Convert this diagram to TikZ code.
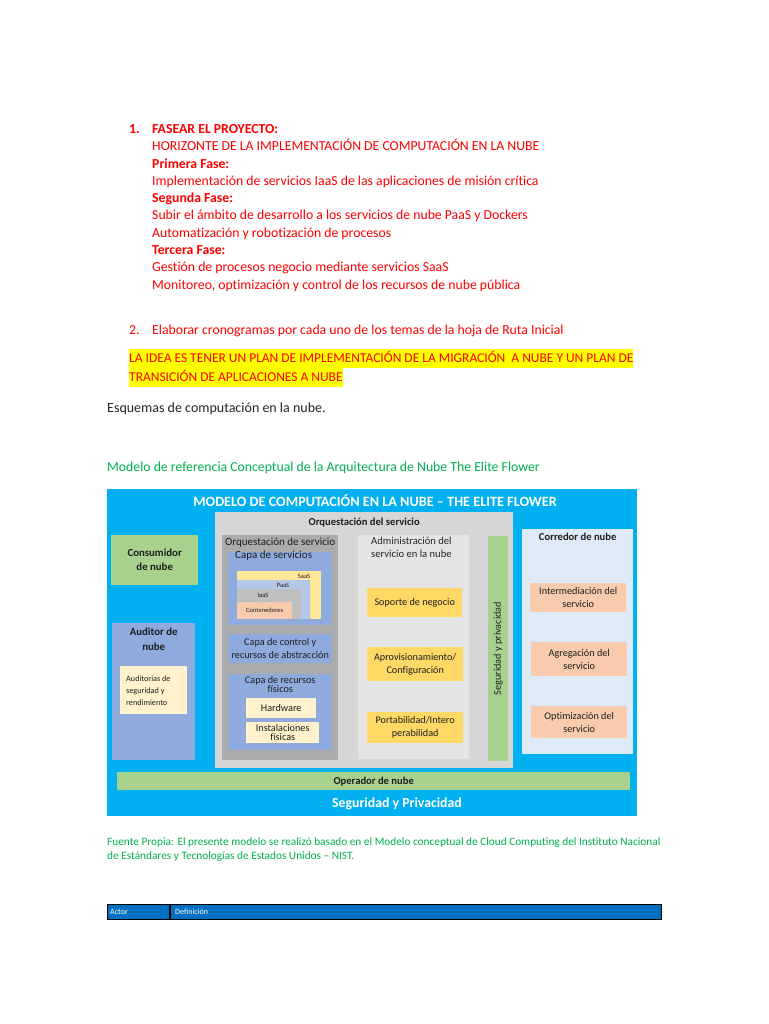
\documentclass[tikz,border=0pt]{standalone}
\usepackage{fontspec}
\setmainfont{Carlito}[Ligatures=NoCommon]
\usetikzlibrary{positioning}
\definecolor{DocRed}{HTML}{FF0000}
\definecolor{DocGreen}{HTML}{00B050}
\definecolor{DocDark}{HTML}{262626}
\definecolor{MarkYellow}{HTML}{FFFF00}
\definecolor{CloudBlue}{HTML}{00B0F0}
\definecolor{PanelGray}{HTML}{D6D6D6}
\definecolor{MidGray}{HTML}{ABABAB}
\definecolor{LightGray}{HTML}{E4E4E4}
\definecolor{SoftGreen}{HTML}{A9D18E}
\definecolor{LayerBlue}{HTML}{8FAADC}
\definecolor{PaleBlue}{HTML}{B4C7E7}
\definecolor{IceBlue}{HTML}{DEEBF7}
\definecolor{Cream}{HTML}{FFF2CC}
\definecolor{Gold}{HTML}{FFD966}
\definecolor{PaleGold}{HTML}{FFE699}
\definecolor{Salmon}{HTML}{F8CBAD}
\definecolor{StoneGray}{HTML}{BFBFBF}
\definecolor{TableBlue}{HTML}{0070C0}
\definecolor{DiagText}{HTML}{1E1E1E}

\begin{document}
\begin{tikzpicture}[x=1pt,y=-1pt,every node/.style={inner sep=0pt, align=center, text=DiagText, font=\fontsize{10.2}{13}\selectfont}, docline/.style={anchor=base west, font=\fontsize{13.75}{17}\selectfont, text=DocRed}, panel/.style args={#1x#2}{anchor=north west, minimum width=#1pt, minimum height=#2pt}, boldlbl/.style={font=\fontsize{10.6}{13}\selectfont\bfseries}, tinylbl/.style={font=\fontsize{6.5}{7}\selectfont}]
    \useasboundingbox[fill=white] (0,0) rectangle (768,1024);
    % document text above the model
    \node[docline, font=\fontsize{13.75}{17}\selectfont\bfseries] (num1) at (129,133.5) {1.};
    \foreach \txt [count=\i] in {{\bfseries FASEAR EL PROYECTO:}, HORIZONTE DE LA IMPLEMENTACIÓN DE COMPUTACIÓN EN LA NUBE, {\bfseries Primera Fase:}, Implementación de servicios IaaS de las aplicaciones de misión crítica, {\bfseries Segunda Fase:}, Subir el ámbito de desarrollo a los servicios de nube PaaS y Dockers, Automatización y robotización de procesos, {\bfseries Tercera Fase:}, Gestión de procesos negocio mediante servicios SaaS, {Monitoreo, optimización y control de los recursos de nube pública}}
        \node[docline] (fase\i) at (152,{133.5+17.3*(\i-1)}) {\txt};
    \node[docline] (num2) at (129,334.5) {2.};
    \node[docline] (crono) at (152,334.5) {Elaborar cronogramas por cada uno de los temas de la hoja de Ruta Inicial};
    \node[docline, font=\fontsize{13.45}{17}\selectfont, fill=MarkYellow, text height=13.5pt, text depth=5.5pt] (idea1) at (129,362.5) {LA IDEA ES TENER UN PLAN DE IMPLEMENTACIÓN DE LA MIGRACIÓN\ \ A NUBE Y UN PLAN DE};
    \node[docline, font=\fontsize{13.45}{17}\selectfont, fill=MarkYellow, text height=13.5pt, text depth=5.5pt] (idea2) at (129,381.5) {TRANSICIÓN DE APLICACIONES A NUBE};
    \node[docline, font=\fontsize{14}{18}\selectfont, text=DocDark] (esquemas) at (107,412) {Esquemas de computación en la nube.};
    \node[docline, text=DocGreen] (modelo) at (107,471.5) {Modelo de referencia Conceptual de la Arquitectura de Nube The Elite Flower};

    % the model
    \node[panel=530x327, fill=CloudBlue] (frame) at (107,489) {};
    \node[font=\fontsize{14.2}{16}\selectfont\bfseries, text=white] (title) at (375,501) {MODELO DE COMPUTACIÓN EN LA NUBE – THE ELITE FLOWER};
    \node[panel=298x256, fill=PanelGray] (orqgral) at (215,512) {};
    \node[boldlbl, below=6pt of orqgral.north] (orqgraltitle) {Orquestación del servicio};
    \node[panel=87x50, fill=SoftGreen, font=\fontsize{10.8}{14}\selectfont\bfseries] (consumidor) at (111,535) {Consumidor\\de nube};
    \node[panel=83x137, fill=LayerBlue] (auditor) at (112,623) {};
    \node[font=\fontsize{10.8}{14.5}\selectfont\bfseries, below=5pt of auditor.north] (auditortitle) {Auditor de\\nube};
    \node[panel=67x48, fill=Cream] (auditorias) at (120,666) {};
    \node[anchor=west, align=left, font=\fontsize{8.2}{12}\selectfont, right=6pt of auditorias.west] (auditoriastxt) {Auditorias de\\seguridad y\\rendimiento};

    \node[panel=116x225, fill=MidGray] (orqserv) at (222,535) {};
    \node[font=\fontsize{11}{13}\selectfont, below=3pt of orqserv.north] (orqservtitle) {Orquestación de servicio};
    \node[panel=104x73, fill=LayerBlue] (capaserv) at (228,552) {};
    \node[font=\fontsize{11}{13}\selectfont, anchor=north west] (capaservtitle) at (235,551) {Capa de servicios};
    \node[panel=84x48, fill=PaleGold] (saas) at (237,571) {};
    \node[panel=73x39, fill=PaleBlue] (paas) at (237,580) {};
    \node[panel=64x30, fill=StoneGray] (iaas) at (237,589) {};
    \node[panel=55x17, fill=Salmon, tinylbl] (contenedores) at (237,602) {Contenedores};
    \node[tinylbl] (saastxt) at (304,576) {SaaS};
    \node[tinylbl] (paastxt) at (283,585) {PaaS};
    \node[tinylbl] (iaastxt) at (263,595) {IaaS};
    \node[panel=104x29, fill=LayerBlue] (capactrl) at (228,634) {Capa de control y\\recursos de abstracción};
    \node[panel=104x76, fill=LayerBlue] (caparec) at (228,674) {};
    \node[font=\fontsize{10.2}{9.5}\selectfont, below=2pt of caparec.north] (caparectitle) {Capa de recursos\\físicos};
    \node[panel=70x20, fill=Cream] (hardware) at (246,698) {Hardware};
    \node[panel=73x21, fill=Cream, font=\fontsize{10.2}{9}\selectfont] (instalaciones) at (246,722) {Instalaciones\\físicas};

    \node[panel=111x224, fill=LightGray] (admin) at (358,535) {};
    \node[anchor=north west, align=left, font=\fontsize{10.6}{13}\selectfont, text=DocDark] (admintitle) at (371,537) {Administración del\\servicio en la nube};
    \node[panel=95x29, fill=Gold] (soporte) at (367,588) {Soporte de negocio};
    \node[panel=96x34, fill=Gold] (aprov) at (367,647) {Aprovisionamiento/\\Configuración};
    \node[panel=96x31, fill=Gold] (portab) at (367,712) {Portabilidad/Intero\\perabilidad};

    \node[panel=20x225, fill=SoftGreen] (segvert) at (488,536) {};
    \node[rotate=90] (segverttxt) at (segvert.center) {Seguridad y privacidad};

    \node[panel=111x225, fill=IceBlue] (corredor) at (522,529) {};
    \node[boldlbl, below=4pt of corredor.north] (corredortitle) {Corredor de nube};
    \node[panel=96x29, fill=Salmon] (intermed) at (530,583) {Intermediación del\\servicio};
    \node[panel=96x34, fill=Salmon] (agreg) at (531,642) {Agregación del\\servicio};
    \node[panel=96x32, fill=Salmon] (optim) at (531,706) {Optimización del\\servicio};

    \node[panel=513x18, fill=SoftGreen, boldlbl] (operador) at (117,772) {Operador de nube};
    \node[font=\fontsize{13.8}{16}\selectfont\bfseries, text=white] (segpriv) at (397,804) {Seguridad y Privacidad};

    % source note and table header
    \node[docline, font=\fontsize{11.3}{14}\selectfont, text=DocGreen] (fuente1) at (107,845) {Fuente Propia: El presente modelo se realizó basado en el Modelo conceptual de Cloud Computing del Instituto Nacional};
    \node[docline, font=\fontsize{11.3}{14}\selectfont, text=DocGreen] (fuente2) at (107,859) {de Estándares y Tecnologías de Estados Unidos – NIST.};
    \node[panel=554x15, fill=TableBlue, draw=black, line width=1.2pt] (tabla) at (107,904) {};
    \draw[line width=1.2pt] (170,904) coordinate (colsep) -- (colsep |- tabla.south);
    \node[anchor=west, font=\fontsize{8}{10}\selectfont, text=white] (actor) at (110,911.5) {Actor};
    \node[anchor=west, font=\fontsize{8}{10}\selectfont, text=white] (definicion) at (175,911.5) {Definición};
\end{tikzpicture}
\end{document}
